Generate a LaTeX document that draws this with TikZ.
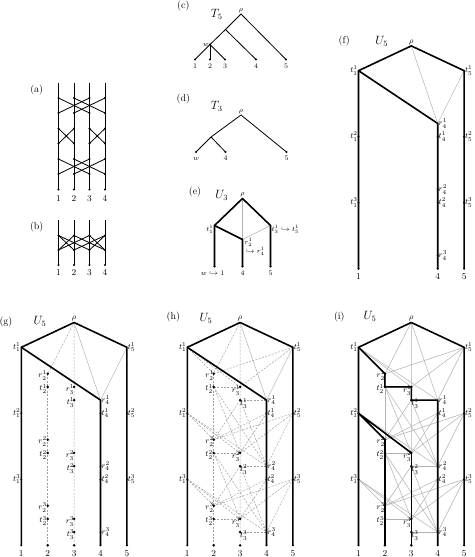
\documentclass[tikz,border=0pt]{standalone}
\usetikzlibrary{calc}
\newcommand{\mkgrid}[1]{%
  \coordinate (#1rho) at (52.8,-24.8);
  \foreach \cc/\ll/\nn in {1/0/t11,1/5/t12,1/10/t13,5/0/t51,5/5/t52,5/10/t53,2/2/r21,2/3/t21,2/7/r22,2/8/t22,2/12/r23,2/13/t23,3/3/r31,3/4/t31,3/8/r32,3/9/t32,3/13/r33,3/14/t33,4/4/r41,4/5/t41,4/9/r42,4/10/t42,4/14/r43,1/15/l1,2/15/l2,3/15/l3,4/15/l4,5/15/l5}
    {\coordinate (#1\nn) at ({(\cc-1)*26.4},{\ll*13.2});}%
}
\newcommand{\roundedges}[2]{%
  \foreach \pp/\qq in {rho/r21,t11/r21,t51/r21,t11/r31,t51/r31,t21/r31,t31/r41,
    t12/r22,t31/r22,t41/r22,t52/r22,
    t12/r32,t21/r32,t41/r32,t52/r32,t22/r32,
    t12/r42,t21/r42,t31/r42,t52/r42,t32/r42,
    t13/r23,t32/r23,t42/r23,t53/r23,
    t13/r33,t22/r33,t42/r33,t53/r33,t23/r33,
    t13/r43,t22/r43,t32/r43,t53/r43,t33/r43}
    {\draw[#2] (#1\pp) -- (#1\qq);}%
}
\newcommand{\outerlabels}[1]{%
  \node[lab,above] (#1Lrho) at (#1rho) {$\rho$};
  \foreach \nn/\tx in {t11/t_1^1,t12/t_1^2,t13/t_1^3}
    {\node[lab,left] (#1L\nn) at (#1\nn) {$\tx$};}
  \foreach \nn/\tx in {t51/t_5^1,t52/t_5^2,t53/t_5^3,r41/r_4^1,t41/t_4^1,r42/r_4^2,t42/t_4^2,r43/r_4^3}
    {\node[lab,right] (#1L\nn) at (#1\nn) {$\tx$};}
}
\newcommand{\outerdots}[1]{\foreach \nn in {t12,t13,t52,t53,t41,r42,t42,r43,l1,l4,l5}{\fill (#1\nn) circle (1.1);}}
\newcommand{\innerdots}[1]{\foreach \nn in {r21,t21,r22,t22,r23,t23,r31,t31,r32,t32,r33,t33,l2,l3}{\fill (#1\nn) circle (1.4);}}
\newcommand{\leaflabels}[2]{\foreach \kk in {#2}{\node[leaf] (#1lab\kk) at ($(#1l\kk)+(0,7.9)$) {\kk};}}
\begin{document}
\begin{tikzpicture}[x=1pt,y=-1pt]
\tikzset{
 thk/.style={line width=1.6pt, line join=round, line cap=round},
 thn/.style={line width=0.5pt, gray!60},
 dsh/.style={line width=0.5pt, gray!75, dash pattern=on 2pt off 1.4pt},
 ln/.style={line width=0.8pt},
 lab/.style={font=\footnotesize, inner sep=0.8pt},
 slab/.style={font=\scriptsize, inner sep=1pt},
 leaf/.style={font=\small, inner sep=0pt},
 sleaf/.style={font=\scriptsize, inner sep=0pt},
 ttl/.style={font=\normalsize, inner sep=0pt},
 nme/.style={font=\large, inner sep=0pt},
}
\useasboundingbox (0,0) rectangle (474,557);

% ---------------- (a) and (b)
\node[ttl] (ta) at (36.7,90) {(a)};
\node[ttl] (tb) at (36.7,226.7) {(b)};
\foreach \k/\x in {1/58.5,2/74,3/89.5,4/105} {
  \coordinate (aT\k) at (\x,82.5);
  \coordinate (aB\k) at (\x,189.5);
  \coordinate (aU1\k) at (\x,98);  \coordinate (aD1\k) at (\x,113);
  \coordinate (aU2\k) at (\x,128.5); \coordinate (aD2\k) at (\x,143.5);
  \coordinate (aU3\k) at (\x,159); \coordinate (aD3\k) at (\x,174);
  \coordinate (bT\k) at (\x,220); \coordinate (bB\k) at (\x,265);
  \coordinate (bU\k) at (\x,235.5); \coordinate (bD\k) at (\x,250);
}
\foreach \k in {1,...,4} {\draw[ln] (aT\k) -- (aB\k); \draw[ln] (bT\k) -- (bB\k);}
\foreach \p/\q in {1/3,3/1,2/4,4/2} {\draw[ln] (aU1\p) -- (aD1\q); \draw[ln] (aU3\p) -- (aD3\q);}
\foreach \p/\q in {1/2,2/1,3/4,4/3} {\draw[ln] (aU2\p) -- (aD2\q);}
\foreach \p/\q in {1/2,2/1,3/4,4/3,1/3,3/1,2/4,4/2} {\draw[ln] (bU\p) -- (bD\q);}
\foreach \k in {1,...,4} {
  \foreach \n in {aU1,aD1,aU2,aD2,aU3,aD3,aB,bU,bD,bB} {\fill (\n\k) circle (1.2);}
  \node[leaf] (aL\k) at ($(aB\k)+(0,9)$) {\k};
  \node[leaf] (bL\k) at ($(bB\k)+(0,7.5)$) {\k};
}

% ---------------- (c)
\node[ttl] (tc) at (183.3,5.7) {(c)};
\node[nme] (nc) at (216.7,14) {$T_5$};
\coordinate (cR) at (241,14);
\coordinate (cI) at (225.5,29.5);
\coordinate (cW) at (210,44.5);
\coordinate (c1) at (195,59.5);
\coordinate (c2) at (210,59.5);
\coordinate (c3) at (225,59.5);
\coordinate (c4) at (256,59.5);
\coordinate (c5) at (286,59.5);
\draw[ln] (c5) -- (cR) -- (cI) -- (cW) -- (c1);
\draw[ln] (cI) -- (c4);
\draw[ln] (cW) -- (c2); \draw[ln] (cW) -- (c3);
\foreach \n in {cW,c1,c2,c3,c4,c5} {\fill (\n) circle (1.1);}
\node[slab,above] (cRL) at (cR) {$\rho$};
\node[slab,left] (cWL) at (cW) {$w$};
\foreach \k in {1,...,5} {\node[sleaf] (cL\k) at ($(c\k)+(0,6.5)$) {\k};}

% ---------------- (d)
\node[ttl] (td) at (183.3,99.3) {(d)};
\node[nme] (nd) at (216.7,106) {$T_3$};
\coordinate (dR) at (241,115);
\coordinate (dI) at (211,137);
\coordinate (dW) at (196,152);
\coordinate (d4) at (225.5,152);
\coordinate (d5) at (286.5,152);
\draw[ln] (d5) -- (dR) -- (dI) -- (dW);
\draw[ln] (dI) -- (d4);
\foreach \n in {dW,d4,d5} {\fill (\n) circle (1.1);}
\node[slab,above] (dRL) at (dR) {$\rho$};
\node[sleaf] (dWL) at ($(dW)+(0,6.5)$) {$w$};
\node[sleaf] (d4L) at ($(d4)+(0,6.5)$) {4};
\node[sleaf] (d5L) at ($(d5)+(0,6.5)$) {5};

% ---------------- (e)
\node[ttl] (te) at (195,192.3) {(e)};
\node[nme] (ne) at (221.7,195) {$U_3$};
\coordinate (eR) at (242.5,198.5);
\coordinate (eT1) at (214.5,225.5);
\coordinate (eT5) at (270.5,225.5);
\coordinate (eR4) at (242.5,239.5);
\coordinate (eL1) at (214.5,266.5);
\coordinate (eL4) at (242.5,266.5);
\coordinate (eL5) at (270.5,266.5);
\draw[thn] (eR) -- (eR4);
\draw[thn] (eT5) -- (eR4);
\draw[thk] (eL1) -- (eT1) -- (eR) -- (eT5) -- (eL5);
\draw[thk] (eT1) -- (eR4) -- (eL4);
\foreach \n in {eL1,eL4,eL5} {\fill (\n) circle (1.1);}
\node[slab,above] (eRL) at (eR) {$\rho$};
\node[slab,left] (eT1L) at ($(eT1)+(0,4)$) {$t_1^1$};
\node[slab,right] (eT5L) at ($(eT5)+(0,4)$) {$t_3^1\hookrightarrow t_5^1$};
\node[slab,anchor=west] (eR4L) at ($(eR4)+(1,3)$) {$r_2^1$};
\node[slab,anchor=west] (eR4M) at ($(eR4)+(2,12)$) {$\hookrightarrow r_4^1$};
\node[sleaf] (eL1L) at ($(eL1)+(-2,6.5)$) {$w\hookrightarrow 1$};
\node[sleaf] (eL4L) at ($(eL4)+(0,6.5)$) {4};
\node[sleaf] (eL5L) at ($(eL5)+(0,6.5)$) {5};

% ---------------- (f)
\node[ttl] (tf) at (344.3,41) {(f)};
\node[nme] (nf) at (381.7,41) {$U_5$};
\begin{scope}[shift={(358.5,70.7)}] \mkgrid{f} \end{scope}
\draw[thn] (frho) -- (fr41);
\draw[thn] (ft51) -- (fr41);
\draw[thk] (fl1) -- (ft11) -- (frho) -- (ft51) -- (fl5);
\draw[thk] (ft11) -- (fr41) -- (fl4);
\foreach \nn in {t12,t13,t52,t53,t41,r42,t42,r43,l1,l4,l5}{\fill (f\nn) circle (1.1);}
\outerlabels{f}
\leaflabels{f}{1,4,5}

% ---------------- (g)
\node[ttl] (tg) at (6,321.7) {(g)};
\node[nme] (ng) at (40,321.7) {$U_5$};
\begin{scope}[shift={(21.3,347.3)}] \mkgrid{g} \end{scope}
\draw[dsh] (grho) -- (gl3);
\draw[dsh] (gr21) -- (gl2);
\draw[dsh] (grho) -- (gr21);
\draw[thn] (grho) -- (gr41);
\draw[thn] (gt51) -- (gr41);
\draw[thk] (gl1) -- (gt11) -- (grho) -- (gt51) -- (gl5);
\draw[thk] (gt11) -- (gr41) -- (gl4);
\outerdots{g}\innerdots{g}
\outerlabels{g}
\foreach \nn/\tx in {r21/r_2^1,t21/t_2^1,r22/r_2^2,t22/t_2^2,r23/r_2^3,t23/t_2^3}
  {\node[lab,left] (gL\nn) at ($(g\nn)+(0,2)$) {$\tx$};}
\foreach \nn/\tx in {r31/r_3^1,t31/t_3^1,r32/r_3^2,t32/t_3^2,r33/r_3^3,t33/t_3^3}
  {\node[lab,below left] (gL\nn) at ($(g\nn)+(1,-3)$) {$\tx$};}
\leaflabels{g}{1,2,3,4,5}

% ---------------- (h)
\node[ttl] (th) at (173.3,317.3) {(h)};
\node[nme] (nh) at (206,318.3) {$U_5$};
\begin{scope}[shift={(187.3,347.3)}] \mkgrid{h} \end{scope}
\draw[dsh] (hrho) -- (hl3);
\draw[dsh] (hr21) -- (hl2);
\roundedges{h}{dsh}
\draw[thn] (hrho) -- (hr41);
\draw[thn] (ht51) -- (hr41);
\draw[thk] (hl1) -- (ht11) -- (hrho) -- (ht51) -- (hl5);
\draw[thk] (ht11) -- (hr41) -- (hl4);
\outerdots{h}\innerdots{h}
\outerlabels{h}
\foreach \nn/\tx in {r21/r_2^1,r22/r_2^2,r23/r_2^3}
  {\node[lab,below left] (hL\nn) at ($(h\nn)+(1,-4)$) {$\tx$};}
\foreach \nn/\tx in {t21/t_2^1,t22/t_2^2,t23/t_2^3}
  {\node[lab,left] (hL\nn) at ($(h\nn)+(0,2)$) {$\tx$};}
\foreach \nn/\tx in {r31/r_3^1,r32/r_3^2,r33/r_3^3}
  {\node[lab,below left] (hL\nn) at ($(h\nn)+(1,-2)$) {$\tx$};}
\foreach \nn/\tx in {t31/t_3^1,t32/t_3^2,t33/t_3^3}
  {\node[lab,below right] (hL\nn) at ($(h\nn)+(-1,-2)$) {$\tx$};}
\leaflabels{h}{1,2,3,4,5}

% ---------------- (i)
\node[ttl] (ti) at (339.3,316.7) {(i)};
\node[nme] (ni) at (370,316.7) {$U_5$};
\begin{scope}[shift={(358.5,347.3)}] \mkgrid{i} \end{scope}
\draw[thn] (irho) -- (il3);
\draw[thn] (ir21) -- (il2);
\roundedges{i}{thn}
\draw[thn] (irho) -- (ir41);
\draw[thn] (it51) -- (ir41);
\draw[thn] (it11) -- (ir41);
\draw[thk] (il1) -- (it11) -- (irho) -- (it51) -- (il5);
\draw[thk] (it11) -- (ir21) -- (it21) -- (ir31) -- (it31) -- (ir41) -- (il4);
\draw[thk] (ir22) -- (it12) -- (ir32);
\draw[thk] (ir22) -- (il2);
\draw[thk] (ir32) -- (il3);
\outerdots{i}\innerdots{i}
\outerlabels{i}
\foreach \nn/\tx in {r21/r_2^1,r22/r_2^2,r23/r_2^3}
  {\node[lab,below left] (iL\nn) at ($(i\nn)+(1,-4)$) {$\tx$};}
\foreach \nn/\tx in {t21/t_2^1,t22/t_2^2,t23/t_2^3}
  {\node[lab,left] (iL\nn) at ($(i\nn)+(0,2)$) {$\tx$};}
\foreach \nn/\tx in {r31/r_3^1,r32/r_3^2,r33/r_3^3}
  {\node[lab,below left] (iL\nn) at ($(i\nn)+(1,-2)$) {$\tx$};}
\foreach \nn/\tx in {t31/t_3^1,t32/t_3^2,t33/t_3^3}
  {\node[lab,below right] (iL\nn) at ($(i\nn)+(-1,-2)$) {$\tx$};}
\leaflabels{i}{1,2,3,4,5}
\end{tikzpicture}
\end{document}
